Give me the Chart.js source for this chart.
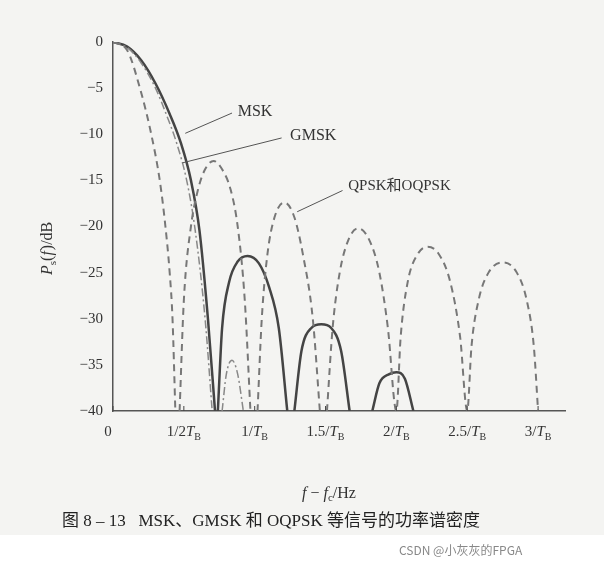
<!DOCTYPE html>
<html><head><meta charset="utf-8">
<script src="https://cdn.jsdelivr.net/npm/chart.js@4.4.0/dist/chart.umd.min.js"></script>
<style>html,body{margin:0;padding:0;background:#fff;}#w{width:611px;height:569px;position:relative}</style>
</head><body><div id="w"><canvas id="c" width="611" height="569"></canvas></div>
<script>
// f in units of 1/T_B, PSD in dB (null = gap between lobes)
const qpskX = [0,0.1,0.19,0.27,0.33,0.37,0.40,0.42,0.44,null,0.47,0.5,0.55,0.6,0.65,0.71,0.77,0.83,0.88,0.93,0.97,null,1.02,1.05,1.09,1.14,1.21,1.28,1.34,1.41,1.46,null,1.51,1.55,1.6,1.66,1.73,1.81,1.88,1.94,2.0,2.03,2.08,2.15,2.22,2.3,2.38,2.45,2.5,2.53,2.58,2.65,2.75,2.85,2.92,2.97,3.0];
const qpskY = [0,-0.9,-5,-10,-15,-20,-25,-30,-40,null,-40,-28,-20,-16,-13.8,-12.9,-13.8,-16,-20,-28,-40,null,-40,-30,-23,-19,-17.4,-19,-23,-30,-40,null,-40,-31,-25,-21.5,-20.2,-21.5,-25,-31,-40,-32,-26,-23,-22.2,-23,-26,-32,-40,-33,-28,-25,-23.9,-25,-28,-33,-40];
const mskX = [0,0.1,0.2,0.3,0.4,0.48,0.55,0.61,0.67,0.72,null,0.74,0.77,0.82,0.88,0.95,1.03,1.1,1.17,1.23,null,1.28,1.33,1.4,1.47,1.54,1.61,1.67,null,1.83,1.88,1.95,2.0,2.06,2.12];
const mskY = [0,-0.5,-2,-4.5,-7.8,-11,-15,-20.4,-30,-40,null,-40,-31,-26,-23.8,-23.2,-24,-26.5,-31,-40,null,-40,-33.5,-31,-30.6,-31,-33.5,-40,null,-40,-37,-36,-35.8,-36.5,-40];
const gmskX = [0,0.1,0.2,0.3,0.38,0.45,0.52,0.58,0.65,0.70,null,0.77,0.8,0.84,0.88,0.92];
const gmskY = [0,-0.6,-2.3,-5,-8,-11,-15,-20.4,-30,-40,null,-40,-36,-34.5,-36,-40];
const yTicks = [0,-5,-10,-15,-20,-25,-30,-35,-40];
const xTicks = [[0,'0',''],[0.5,'1/2','T'],[1,'1/','T'],[1.5,'1.5/','T'],[2,'2/','T'],[2.5,'2.5/','T'],[3,'3/','T']];
const labels = [
 {text:'MSK', from:[0.51,-9.9], to:[0.84,-7.7], at:[0.88,-7.6]},
 {text:'GMSK', from:[0.49,-13.1], to:[1.19,-10.4], at:[1.25,-10.2]},
 {text:'QPSK和OQPSK', from:[1.30,-18.4], to:[1.62,-16.1], at:[1.66,-15.6]}
];
const pts=(xs,ys)=>xs.map((x,i)=>x===null?{x:(xs[i-1]+xs[i+1])/2,y:null}:{x:x,y:ys[i]});
const SERIF='"Liberation Serif","DejaVu Serif",serif';
const CJK='"Noto Sans CJK SC",sans-serif';
const bg={id:'bg',beforeDraw(ch){const c=ch.ctx;c.save();c.fillStyle='#f4f4f2';c.fillRect(0,0,604,535);c.restore();}};
const deco={id:'deco',afterDraw(ch){
 const c=ch.ctx,xs=ch.scales.x,ys=ch.scales.y;
 c.save();c.fillStyle='#333';c.strokeStyle='#444';
 c.font='15px '+SERIF;c.textAlign='right';c.textBaseline='middle';
 yTicks.forEach(v=>c.fillText(String(v).replace('-','−'),103,ys.getPixelForValue(v)));
 c.textBaseline='alphabetic';
 xTicks.forEach(([v,a,t])=>{
   const px=xs.getPixelForValue(v);
   c.beginPath();c.moveTo(px,411);c.lineTo(px,406);c.lineWidth=1;c.stroke();
   c.font='15px '+SERIF;const wa=c.measureText(a).width;
   c.font='italic 15px '+SERIF;const wt=t?c.measureText(t).width:0;
   c.font='10px '+SERIF;const wb=t?c.measureText('B').width:0;
   let x0=px-(wa+wt+wb)/2+(v===0?-5:0);c.textAlign='left';
   c.font='15px '+SERIF;c.fillText(a,x0,436);
   if(t){c.font='italic 15px '+SERIF;c.fillText(t,x0+wa,436);c.font='10px '+SERIF;c.fillText('B',x0+wa+wt,440);}
 });
 c.font='italic 16px '+SERIF;c.textAlign='left';let x=302;
 c.fillText('f',x,498);x+=c.measureText('f ').width;
 c.font='16px '+SERIF;c.fillText('−',x,498);x+=c.measureText('− ').width;
 c.font='italic 16px '+SERIF;c.fillText('f',x,498);x+=c.measureText('f').width;
 c.font='11px '+SERIF;c.fillText('c',x,501);x+=c.measureText('c').width;
 c.font='16px '+SERIF;c.fillText('/Hz',x,498);
 c.save();c.translate(52,230);c.rotate(-Math.PI/2);c.textAlign='left';let y=-45;
 c.font='italic 16px '+SERIF;c.fillText('P',y,0);y+=c.measureText('P').width;
 c.font='11px '+SERIF;c.fillText('s',y,4);y+=c.measureText('s').width;
 c.font='16px '+SERIF;c.fillText('(',y,0);y+=c.measureText('(').width;
 c.font='italic 16px '+SERIF;c.fillText('f',y,0);y+=c.measureText('f').width+1;
 c.font='16px '+SERIF;c.fillText(')/dB',y,0);c.restore();
 labels.forEach(l=>{c.beginPath();c.lineWidth=1;c.strokeStyle='#555';
   c.moveTo(xs.getPixelForValue(l.from[0]),ys.getPixelForValue(l.from[1]));
   c.lineTo(xs.getPixelForValue(l.to[0]),ys.getPixelForValue(l.to[1]));c.stroke();
   c.font=(l.text.includes('和')?'15px ':'16px ')+SERIF+','+CJK;c.textAlign='left';c.textBaseline='middle';
   c.fillText(l.text,xs.getPixelForValue(l.at[0]),ys.getPixelForValue(l.at[1]));c.textBaseline='alphabetic';});
 c.fillStyle='#222';c.font='17px '+SERIF+','+CJK;c.textAlign='left';
 c.fillText('图 8 – 13   MSK、GMSK 和 OQPSK 等信号的功率谱密度',62,526);
 c.fillStyle='#888';c.font='12px '+CJK;c.fillText('CSDN @小灰灰的FPGA',399,555);
 c.restore();
}};
new Chart(document.getElementById('c'),{
 type:'line',
 data:{datasets:[
  {data:pts(qpskX,qpskY),borderColor:'#777',borderWidth:2,borderDash:[7,5],pointRadius:0,spanGaps:false,cubicInterpolationMode:'monotone'},
  {data:pts(gmskX,gmskY),borderColor:'#888',borderWidth:1.5,borderDash:[8,3,2,3],pointRadius:0,spanGaps:false,cubicInterpolationMode:'monotone'},
  {data:pts(mskX,mskY),borderColor:'#444',borderWidth:2.5,pointRadius:0,spanGaps:false,cubicInterpolationMode:'monotone'}
 ]},
 options:{responsive:false,animation:false,
  layout:{padding:{left:113,top:42,right:46,bottom:158}},
  plugins:{legend:{display:false},tooltip:{enabled:false}},
  scales:{
   x:{type:'linear',min:0,max:3.19,ticks:{display:false},grid:{display:false,drawTicks:false},border:{color:'#555',width:1.5},afterFit:s=>{s.height=0;}},
   y:{min:-40,max:0,ticks:{display:false},grid:{display:false,drawTicks:false},border:{color:'#555',width:1.5},afterFit:s=>{s.width=0;}}
  }},
 plugins:[bg,deco]
});
</script></body></html>
